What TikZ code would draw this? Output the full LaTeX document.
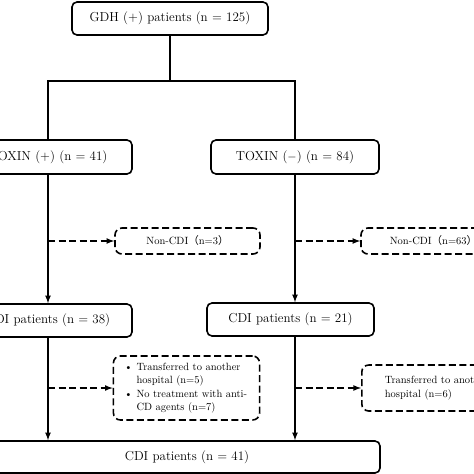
\documentclass[tikz,border=0pt]{standalone}
\usepackage{fontspec}
\usepackage{array}
\newfontfamily\cjk{Noto Sans CJK SC}
\usetikzlibrary{calc}
\tikzset{>=latex}
\tikzset{
  box/.style={draw, line width=1.6pt, rounded corners=5pt, align=center,
    font=\fontsize{13}{15}\selectfont},
  dashbox/.style={draw, line width=1.6pt, rounded corners=7pt,
    dash pattern=on 7pt off 3.5pt, font=\fontsize{10.5}{13.4}\selectfont},
  dasharrow/.style={->, line width=1.6pt, dash pattern=on 7pt off 3.5pt}
}

\begin{document}
\begin{tikzpicture}[x=1pt, y=-1pt, line width=1.6pt]
      \useasboundingbox (0,0) rectangle (474,474);
      \clip (0,0) rectangle (474,474);

      \node [box, minimum width=196, minimum height=33] (gdh) at (170,18.5)
      {GDH (+) patients (n = 125)};

      \node [box, minimum width=168, minimum height=34] (toxpos) at (48,157)
      {TOXIN (+) (n = 41)};

      \node [box, minimum width=168, minimum height=34] (toxneg) at (295,157)
      {TOXIN ($-$) (n = 84)};

      \node [dashbox, minimum width=145, minimum height=26] (noncdia) at (187.5,241)
      {Non-CDI{\cjk （}n=3{\cjk ）}};

      \node [dashbox, minimum width=145, minimum height=26] (noncdib) at (433.5,241)
      {Non-CDI{\cjk （}n=63{\cjk ）}};

      \node [box, minimum width=168, minimum height=33] (cdipos) at (48,320.5)
      {CDI patients (n = 38)};

      \node [box, minimum width=167, minimum height=33] (cdineg) at (290.5,319.5)
      {CDI patients (n = 21)};

      \node [dashbox, minimum width=143, minimum height=64, inner xsep=11pt]
      (lostpos) at (186.5,388)
      {\begin{tabular}{@{}l@{\hspace{4pt}}>{\raggedright\arraybackslash}p{112pt}@{}}
        \textbullet & Transferred to another\newline hospital (n=5)\\
        \textbullet & No treatment with anti-\newline CD agents (n=7)
      \end{tabular}};

      \node [dashbox, anchor=west, minimum height=46, inner xsep=23pt,
      text width=118pt, align=left] (lostneg) at (361,388)
      {Transferred to another\\ hospital (n=6)};

      \node [box, minimum width=386, minimum height=32] (cdiall) at (187,457)
      {CDI patients (n = 41)};

      \coordinate (split) at (170,81);

      \draw (gdh.south) -- (split);
      \draw (toxpos.north) |- (split) -| (toxneg.north);

      \draw [->] (toxpos.south) -- (cdipos.north);
      \draw [->] (toxneg.south) -- (toxneg.south |- cdineg.north);

      \draw [dasharrow] (toxpos.south |- noncdia.west) -- (noncdia.west);
      \draw [dasharrow] (toxneg.south |- noncdib.west) -- (noncdib.west);

      \draw [->] (cdipos.south) -- (cdipos.south |- cdiall.north);
      \draw [->] (toxneg.south |- cdineg.south) -- (toxneg.south |- cdiall.north);

      \draw [dasharrow] (cdipos.south |- lostpos.west) -- (lostpos.west);
      \draw [dasharrow] (toxneg.south |- lostneg.west) -- (lostneg.west);
\end{tikzpicture}
\end{document}
